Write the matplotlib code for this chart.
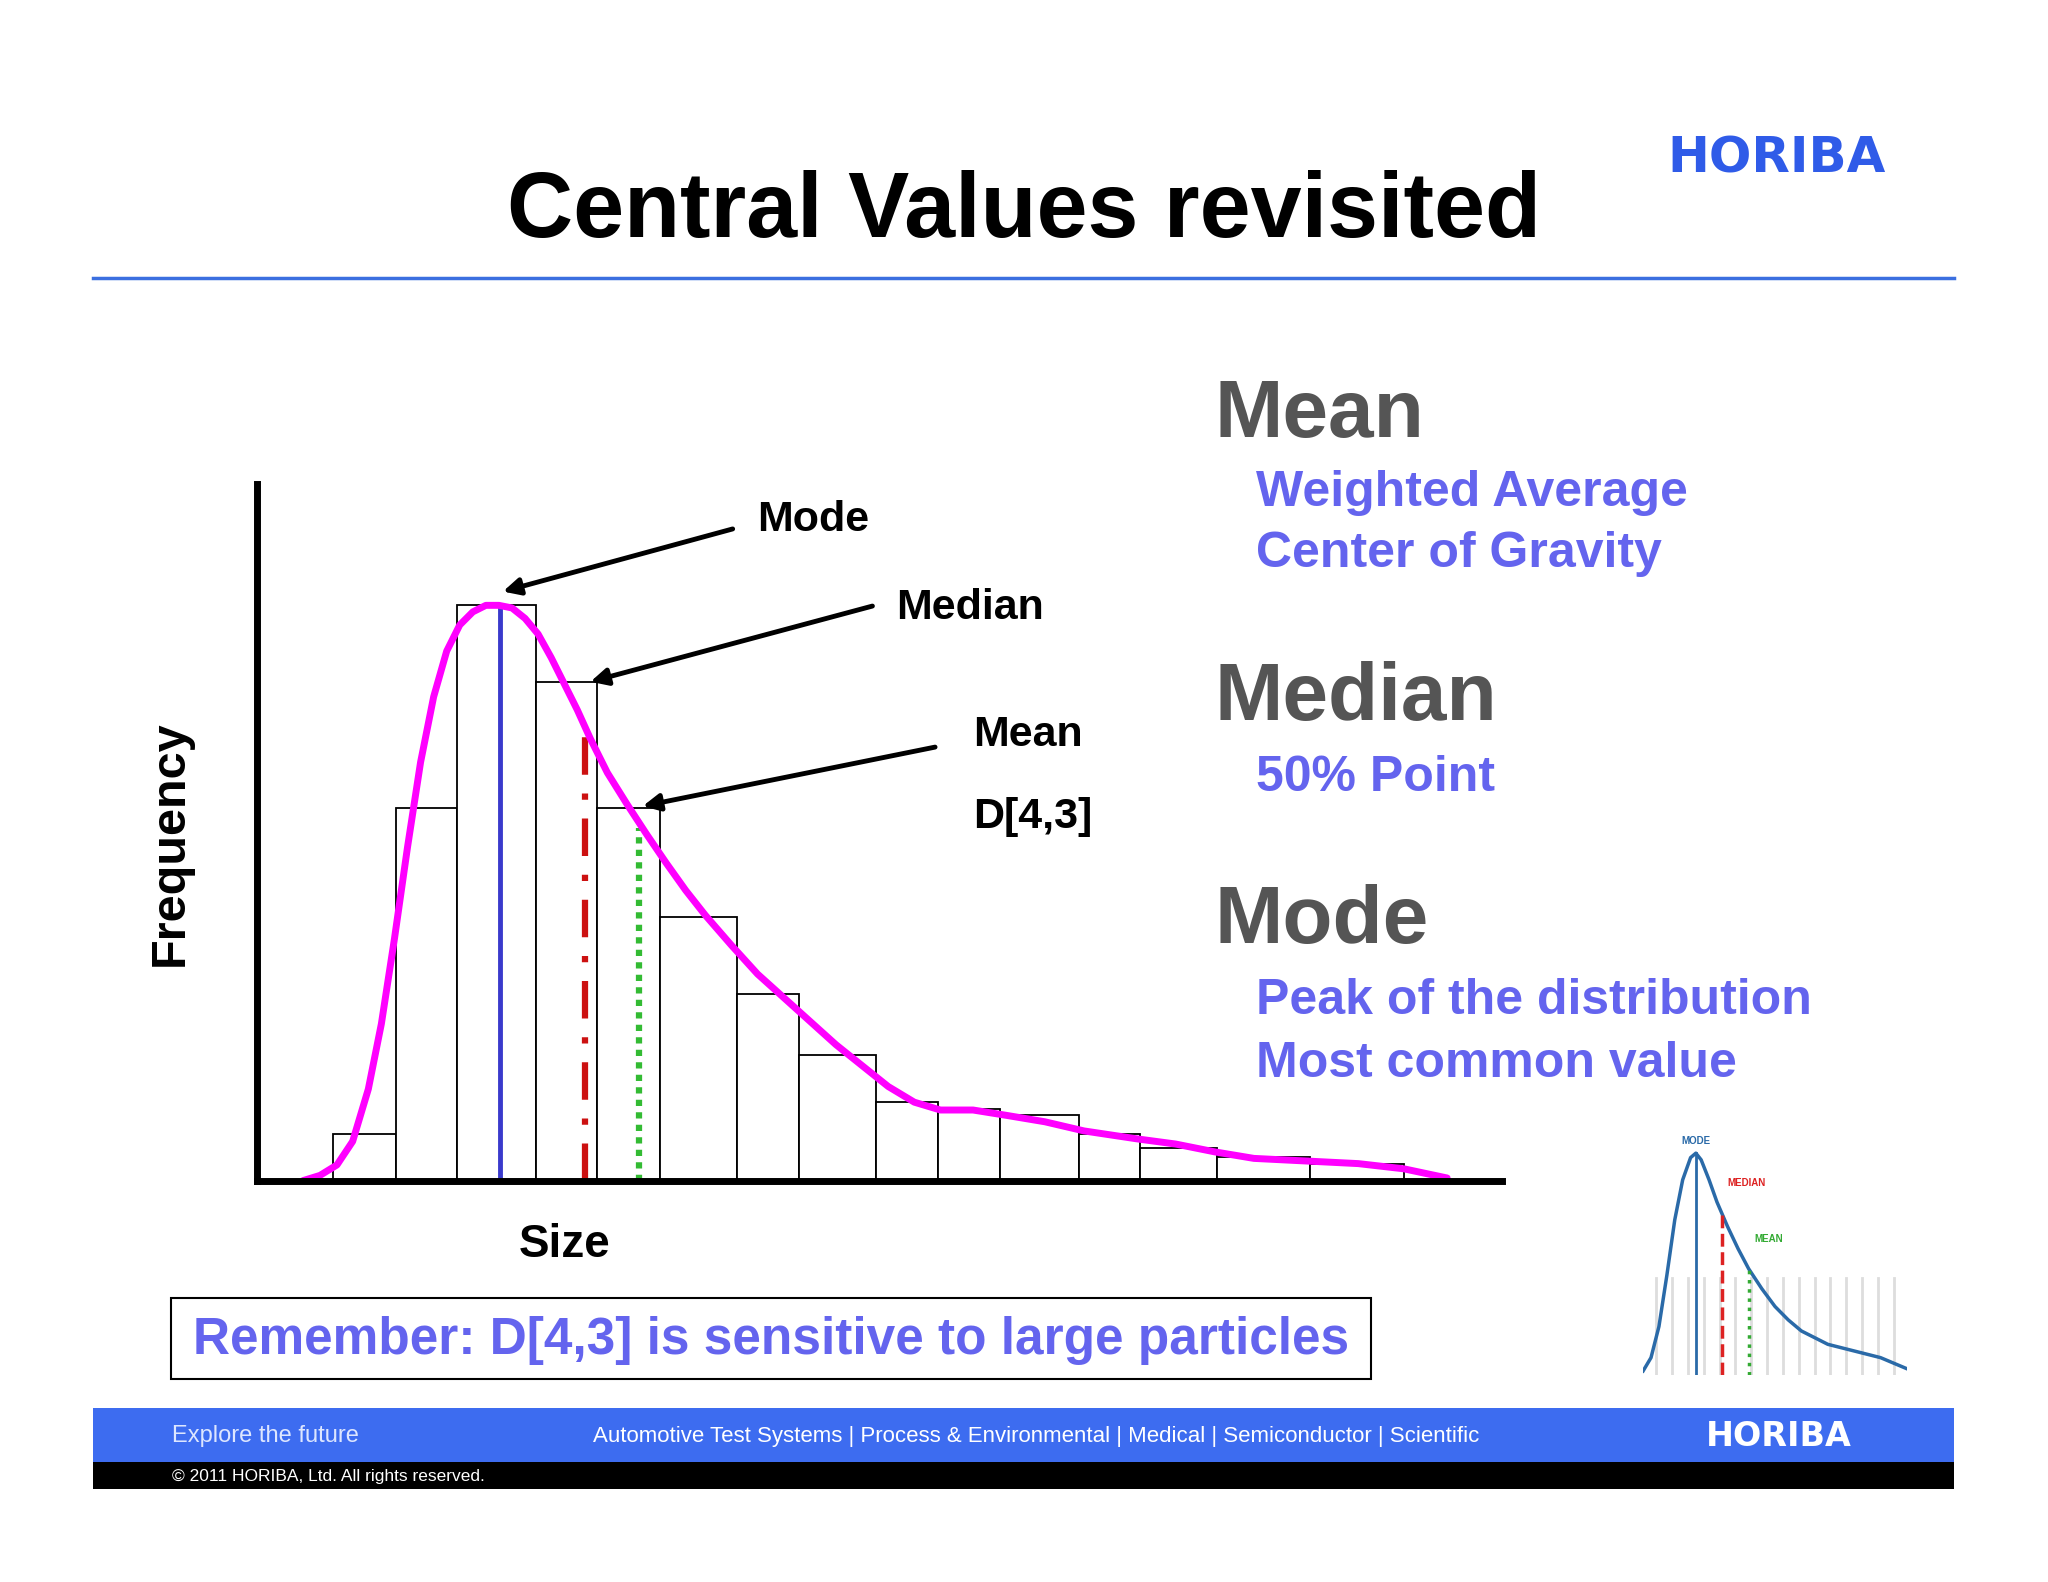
import numpy as np
import matplotlib
matplotlib.use("Agg")
import matplotlib.pyplot as plt
from matplotlib.patches import Rectangle

plt.rcParams['font.family'] = ['Liberation Sans', 'DejaVu Sans']

# histogram data (size units are arbitrary)
bin_edges = [255, 303, 350, 410, 457, 505, 564, 612, 671, 718, 766, 826, 873, 932, 1003, 1075]
bin_heights = [36, 285, 440, 381, 285, 202, 143, 96, 60, 55, 50, 36, 25, 18, 13]

# fitted curve through the histogram, read point by point
curve_x = [232, 245, 258, 270, 282, 292, 302, 312, 322, 332, 342, 352, 362, 372, 382, 392,
           402, 412, 422, 432, 442, 452, 465, 480, 495, 510, 525, 540, 560, 580, 600, 620,
           640, 660, 680, 700, 720, 745, 770, 800, 830, 870, 900, 930, 960, 1000, 1040, 1075, 1108]
curve_y = [0, 4, 12, 30, 70, 120, 185, 255, 320, 370, 405, 425, 435, 440, 440, 438,
           430, 418, 400, 380, 360, 338, 312, 288, 265, 243, 222, 203, 180, 158, 140, 122,
           104, 88, 72, 60, 54, 54, 50, 45, 38, 32, 28, 22, 17, 15, 13, 9, 2]

mode_x, mode_h = 383, 440
median_x, median_h = 448, 350
mean_x, mean_h = 489, 270

# small inset curve
inset_x = [0, 0.03, 0.06, 0.09, 0.12, 0.15, 0.18, 0.2, 0.22, 0.25, 0.28, 0.32, 0.36, 0.4, 0.45,
           0.5, 0.55, 0.6, 0.7, 0.8, 0.9, 1.0]
inset_y = [0.02, 0.08, 0.22, 0.45, 0.7, 0.88, 0.98, 1.0, 0.97, 0.88, 0.78, 0.67, 0.57, 0.48, 0.39,
           0.31, 0.25, 0.2, 0.14, 0.11, 0.08, 0.03]

W, H = 1568, 1210
fig = plt.figure(figsize=(20.48, 15.82), dpi=100)

def fx(x):
    return x / W

def fy(y):
    return 1 - y / H

# overlay axes in slide pixel coordinates
ov = fig.add_axes([0, 0, 1, 1], zorder=3)
ov.set_xlim(0, W)
ov.set_ylim(H, 0)
ov.axis('off')
ov.patch.set_alpha(0)

# main histogram axes
ax = fig.add_axes([fx(197), fy(903), fx(1150) - fx(197), fy(370) - fy(903)], zorder=2)
ax.set_xlim(197, 1150)
ax.set_ylim(0, 533)
ax.bar(bin_edges[:-1], bin_heights, width=np.diff(bin_edges), align='edge',
       facecolor='white', edgecolor='black', linewidth=1.3)
ax.plot([mode_x, mode_x], [0, mode_h], color='#3a3acc', lw=3.5)
ax.plot([median_x, median_x], [0, median_h], color='#cc1111', lw=4.5, ls=(0, (6, 3, 1, 3)))
ax.plot([mean_x, mean_x], [0, mean_h], color='#33bb33', lw=4.5, ls=(0, (1, 1)))
ax.plot(curve_x, curve_y, color='#ff00ff', lw=5, solid_capstyle='round', solid_joinstyle='round')
for s in ['top', 'right']:
    ax.spines[s].set_visible(False)
for s in ['left', 'bottom']:
    ax.spines[s].set_linewidth(5)
ax.set_xticks([])
ax.set_yticks([])
ax.patch.set_alpha(0)

# title + header
ov.text(784, 163, 'Central Values revisited', ha='center', va='center', fontsize=66, fontweight='bold')
ov.text(1360, 121, 'HORIBA', ha='center', va='center', fontsize=36, fontweight='heavy',
        color='#2f5be8', family='DejaVu Sans')
ov.plot([71, 1496], [213, 213], color='#3b6fe0', lw=2.5)

# axis labels
ov.text(130, 645, 'Frequency', rotation=90, ha='center', va='center', fontsize=35, fontweight='bold')
ov.text(432, 952, 'Size', ha='center', va='center', fontsize=33, fontweight='bold')

# annotations
arrowprops = dict(arrowstyle='-|>', color='black', lw=3.5, mutation_scale=25)
ov.annotate('', xy=(383, 453), xytext=(563, 404), arrowprops=arrowprops)
ov.annotate('', xy=(450, 522), xytext=(670, 463), arrowprops=arrowprops)
ov.annotate('', xy=(490, 617), xytext=(718, 571), arrowprops=arrowprops)
ov.text(580, 398, 'Mode', va='center', fontsize=31, fontweight='bold')
ov.text(686, 465, 'Median', va='center', fontsize=31, fontweight='bold')
ov.text(745, 562, 'Mean', va='center', fontsize=31, fontweight='bold')
ov.text(745, 625, 'D[4,3]', va='center', fontsize=31, fontweight='bold')

# right-hand explanations
grey = '#555555'
blue = '#6464ee'
ov.text(930, 318, 'Mean', va='center', fontsize=59, fontweight='bold', color=grey)
ov.text(962, 377, 'Weighted Average', va='center', fontsize=36, fontweight='bold', color=blue)
ov.text(962, 424, 'Center of Gravity', va='center', fontsize=36, fontweight='bold', color=blue)
ov.text(930, 535, 'Median', va='center', fontsize=59, fontweight='bold', color=grey)
ov.text(962, 595, '50% Point', va='center', fontsize=36, fontweight='bold', color=blue)
ov.text(930, 705, 'Mode', va='center', fontsize=59, fontweight='bold', color=grey)
ov.text(962, 766, 'Peak of the distribution', va='center', fontsize=36, fontweight='bold', color=blue)
ov.text(962, 814, 'Most common value', va='center', fontsize=36, fontweight='bold', color=blue)

# remember box
ov.add_patch(Rectangle((131, 993), 919, 62, facecolor='white', edgecolor='black', lw=1.5))
ov.text(590, 1025, 'Remember: D[4,3] is sensitive to large particles', ha='center', va='center',
        fontsize=37, fontweight='bold', color=blue)

# footer
ov.add_patch(Rectangle((71, 1077), 1425, 41, facecolor='#3d6cf0', edgecolor='none'))
ov.add_patch(Rectangle((71, 1118), 1425, 21, facecolor='black', edgecolor='none'))
ov.text(132, 1098, 'Explore the future', va='center', fontsize=17, color='#dde6ff')
ov.text(454, 1099, 'Automotive Test Systems | Process & Environmental | Medical | Semiconductor | Scientific',
        va='center', fontsize=16, color='white')
ov.text(1362, 1099, 'HORIBA', ha='center', va='center', fontsize=24, fontweight='heavy',
        color='white', family='DejaVu Sans')
ov.text(132, 1129, '© 2011 HORIBA, Ltd. All rights reserved.', va='center', fontsize=12.5, color='white')

# inset mini chart
ia = fig.add_axes([fx(1258), fy(1052), fx(1460) - fx(1258), fy(865) - fy(1052)], zorder=2)
ia.set_xlim(0, 1)
ia.set_ylim(0, 1.1)
for xv in np.arange(0.05, 1.0, 0.06):
    ia.axvline(xv, ymax=0.4, color='#dddddd', lw=2)
ia.plot(inset_x, inset_y, color='#2a6aa8', lw=2.5)
ia.plot([0.2, 0.2], [0, 1.0], color='#2a6aa8', lw=2)
ia.plot([0.3, 0.3], [0, 0.72], color='#dd2222', lw=2.5, ls='--')
ia.plot([0.4, 0.4], [0, 0.48], color='#33aa33', lw=2.5, ls=':')
ia.text(0.2, 1.04, 'MODE', ha='center', fontsize=7, color='#2a6aa8', fontweight='bold')
ia.text(0.32, 0.85, 'MEDIAN', fontsize=7, color='#dd2222', fontweight='bold')
ia.text(0.42, 0.6, 'MEAN', fontsize=7, color='#33aa33', fontweight='bold')
ia.axis('off')

fig.savefig('out.png', dpi=100)
